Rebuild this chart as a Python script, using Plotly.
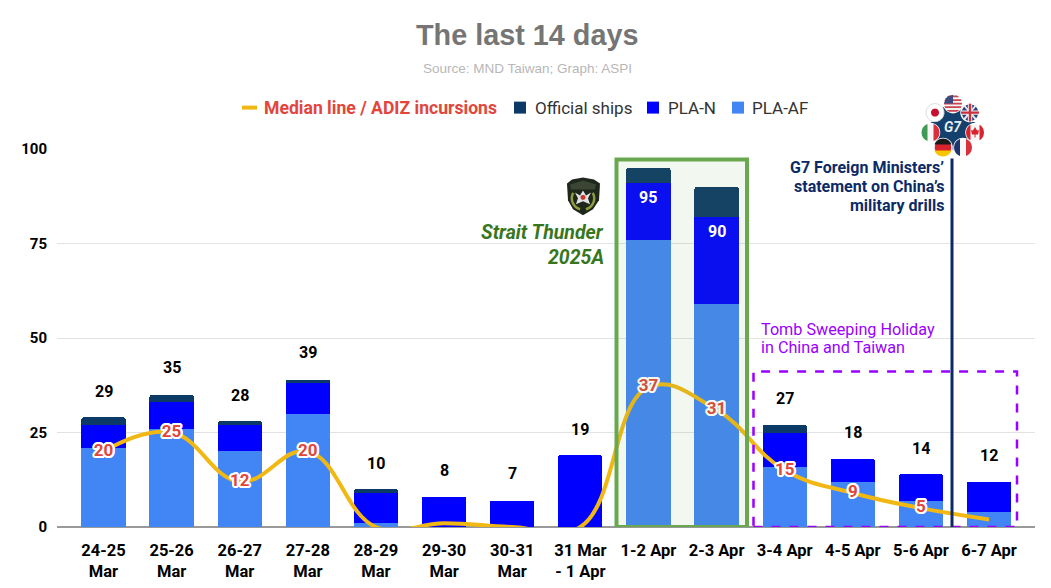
import math
import plotly.graph_objects as go

# ---- data ----
periods = ["24-25<br>Mar", "25-26<br>Mar", "26-27<br>Mar", "27-28<br>Mar", "28-29<br>Mar",
           "29-30<br>Mar", "30-31<br>Mar", "31 Mar<br>- 1 Apr", "1-2 Apr", "2-3 Apr",
           "3-4 Apr", "4-5 Apr", "5-6 Apr", "6-7 Apr"]
pla_af = [21, 26, 20, 30, 1, 0, 0, 0, 76, 59, 16, 12, 7, 4]
pla_n = [6, 7, 7, 8, 8, 8, 7, 19, 15, 23, 9, 6, 7, 8]
official_ships = [2, 2, 1, 1, 1, 0, 0, 0, 4, 8, 2, 0, 0, 0]
totals = [29, 35, 28, 39, 10, 8, 7, 19, 95, 90, 27, 18, 14, 12]
adiz_incursions = [20, 25, 12, 20, 0, 1, 0, 0, 37, 31, 15, 9, 5, 2]
adiz_labels = ["20", "25", "12", "20", "", "", "", "", "37", "31", "15", "9", "5", ""]
total_label_shift = [26, 27, 26, 27, 26, 26, 27, 26, -30, -45, 26, 26, 26, 26]
y_ticks = [0, 25, 50, 75, 100]

AF_BLUE, NAVY_BLUE, SHIP_BLUE = "#4285f4", "#0000ff", "#0b3a66"
LINE_GOLD, LABEL_RED = "#f1b814", "#e0463c"

W, H = 1051, 588
LEFT, RIGHT, TOP, BASE = 57, 1035, 148.5, 527.5
indices = list(range(len(periods)))
STEP = 68.12
X0_PX = 103.5


def px(x):
    return (x - LEFT) / (RIGHT - LEFT)


def py(y):
    return (BASE - y) / (BASE - TOP)


def dx(x):
    return (x - X0_PX) / STEP


def dy(y):
    return (BASE - y) / ((BASE - TOP) / 100)


fig = go.Figure()
halo = ", ".join(f"white {a}px {b}px 0px" for a in (-2, -1, 0, 1, 2) for b in (-2, -1, 0, 1, 2)
                 if abs(a) + abs(b) in (1, 2, 3))

fig.add_bar(x=indices, y=pla_af, name="PLA-AF", marker_color=AF_BLUE, marker_line_width=0, width=0.65)
fig.add_bar(x=indices, y=pla_n, name="PLA-N", marker_color=NAVY_BLUE, marker_line_width=0, width=0.65)
fig.add_bar(x=indices, y=official_ships, name="Official ships", marker_color=SHIP_BLUE, marker_line_width=0, width=0.65)
fig.add_scatter(
    x=indices, y=adiz_incursions, text=adiz_labels, mode="lines+text",
    name="Median line / ADIZ incursions",
    line=dict(color=LINE_GOLD, width=4, shape="spline", smoothing=1.2),
    textposition="middle center",
    textfont=dict(family="Roboto", size=17, color=LABEL_RED, weight="bold", shadow=halo),
)

for i, (t, s) in enumerate(zip(totals, total_label_shift)):
    fig.add_annotation(x=i, y=t, yshift=s, text=f"<b>{t}</b>", showarrow=False,
                       font=dict(family="Roboto", size=16, color="white" if s < 0 else "black"))


def note(text, x, y, color, size, xanchor="right", family="Roboto"):
    fig.add_annotation(xref="paper", yref="paper", x=px(x), y=py(y), text=text, showarrow=False,
                       xanchor=xanchor, yanchor="middle", align=xanchor,
                       font=dict(family=family, size=size, color=color))


note("<b>The last 14 days</b>", 527, 34, "#757575", 28.8, "center", "Liberation Sans")
note("Source: MND Taiwan; Graph: ASPI", 527, 68, "#b7b7b7", 13.5, "center", "Liberation Sans")

note("<b><i>Strait Thunder</i></b>", 606, 232, "#38761d", 19.5)
note("<b><i>2025A</i></b>", 606, 257, "#38761d", 19.5)
note("<b>G7 Foreign Ministers’</b>", 946, 167, "#0b2a66", 16)
note("<b>statement on China’s</b>", 946, 186, "#0b2a66", 16)
note("<b>military drills</b>", 946, 205, "#0b2a66", 16)
note("Tomb Sweeping Holiday", 759, 329, "#9900ff", 16.2, "left")
note("in China and Taiwan", 759, 348, "#9900ff", 16.2, "left")

# Legend row
note("<b>Median line / ADIZ incursions</b>", 262, 107, "#e2453c", 17.6, "left")
note("Official ships", 533, 107, "#333333", 17, "left")
note("PLA-N", 666, 107, "#333333", 17, "left")
note("PLA-AF", 750, 107, "#333333", 17, "left")

shapes = []


def swatch(x, color):
    shapes.append(dict(type="rect", xref="paper", yref="paper", x0=px(x), x1=px(x + 12),
                       y0=py(113), y1=py(101), fillcolor=color, line_width=0, layer="above"))


shapes.append(dict(type="rect", xref="paper", yref="paper", x0=px(242), x1=px(257),
                   y0=py(109), y1=py(105), fillcolor=LINE_GOLD, line_width=0, layer="above"))
swatch(514, SHIP_BLUE)
swatch(647, NAVY_BLUE)
swatch(732, AF_BLUE)

# Exercise highlight panel, tinting the bars it covers
shapes.append(dict(type="rect", xref="x", yref="y", x0=dx(616.5), x1=dx(747), y0=0, y1=dy(159),
                   line=dict(color="#6aa84f", width=4), fillcolor="rgba(106,168,79,0.09)", layer="above"))
# Holiday window
shapes.append(dict(type="rect", xref="x", yref="y", x0=dx(753.5), x1=dx(1017), y0=0, y1=dy(371.5),
                   line=dict(color="#9900ff", width=2.5, dash="dash"), fillcolor="rgba(0,0,0,0)", layer="above"))
# Statement date marker
shapes.append(dict(type="line", xref="x", yref="y", x0=dx(952), x1=dx(952), y0=0, y1=dy(158),
                   line=dict(color="#0b2a66", width=3), layer="above"))


def circle_pts(cx, cy, r, a0, a1, n=24):
    return [(cx + r * math.cos(math.radians(a0 + (a1 - a0) * k / n)),
             cy + r * math.sin(math.radians(a0 + (a1 - a0) * k / n))) for k in range(n + 1)]


def poly(points, fill, line=None, width=0):
    d = "M " + " L ".join(f"{px(x):.5f},{py(y):.5f}" for x, y in points) + " Z"
    shapes.append(dict(type="path", xref="paper", yref="paper", path=d, fillcolor=fill,
                       line=dict(color=line or "rgba(0,0,0,0)", width=width), layer="above"))


def disk(cx, cy, r, fill, line=None, width=0):
    poly(circle_pts(cx, cy, r, 0, 360, 40), fill, line, width)


def clip_band(cx, cy, r, lo, hi, axis, fill):
    """Fill the part of a disk lying between two offsets along one axis."""
    pts = []
    for sgn in (1, -1):
        steps = [lo + (hi - lo) * k / 12 for k in range(13)]
        if sgn < 0:
            steps.reverse()
        for t in steps:
            t = max(-r, min(r, t))
            w = math.sqrt(max(r * r - t * t, 0)) * sgn
            pts.append((cx + t, cy + w) if axis == "x" else (cx + w, cy + t))
    poly(pts, fill)


# G7 emblem: clears the top gridline, then a star-shaped hub with seven flag discs
poly([(917, 140), (990, 140), (990, 156), (917, 156)], "white")
hub = []
for k in range(14):
    ang = math.radians(-90 + k * 360 / 14 + 360 / 14)
    rad = 23 if k % 2 == 0 else 14
    hub.append((953 + rad * math.cos(ang), 127 + rad * math.sin(ang)))
poly(hub, "#14406e")
R = 9
RIM = 1.5

# United States
cx, cy = 953, 103
disk(cx, cy, R, "#f4f4f4", "white", RIM)
for off in (-7.2, -3.6, 0, 3.6, 7.2):
    clip_band(cx, cy, R, off - 0.9, off + 0.9, "y", "#c8464f")
poly([(945.8, 97.5), (948, 95.8), (953, 94.2), (953, 103), (944, 103)], "#3c4a80")

# Japan
disk(935, 112, R, "white", "#dddddd", 1)
disk(935, 112, 4, "#c8102e")

# United Kingdom
cx, cy = 970, 112
disk(cx, cy, R, "#2b3f7e", "white", RIM)
poly([(963.5, 105.5), (965, 104.5), (976.5, 118), (975, 119.5)], "#e8e8e8")
poly([(975, 104.5), (976.5, 105.5), (965, 119.5), (963.5, 118)], "#e8e8e8")
clip_band(cx, cy, R, -2.2, 2.2, "x", "#f2f2f2")
clip_band(cx, cy, R, -2.2, 2.2, "y", "#f2f2f2")
clip_band(cx, cy, R, -1.2, 1.2, "x", "#c8323e")
clip_band(cx, cy, R, -1.2, 1.2, "y", "#c8323e")

# Italy
cx, cy = 930.5, 132
disk(cx, cy, R, "#f7f7f7", "white", RIM)
clip_band(cx, cy, R, -R, -3, "x", "#3f9a55")
clip_band(cx, cy, R, 3, R, "x", "#d8303c")

# Canada
cx, cy = 975, 132
disk(cx, cy, R, "#f7f7f7", "white", RIM)
clip_band(cx, cy, R, -R, -4.5, "x", "#d8232f")
clip_band(cx, cy, R, 4.5, R, "x", "#d8232f")
poly([(975, 126.5), (977, 130), (979, 129.5), (978, 134), (975.5, 134), (975.5, 137),
      (974.5, 137), (974.5, 134), (972, 134), (971, 129.5), (973, 130)], "#d8232f")

# Germany
cx, cy = 943, 147
disk(cx, cy, R, "#d8232f", "white", RIM)
clip_band(cx, cy, R, -R, -3, "y", "#1a1a1a")
clip_band(cx, cy, R, 3, R, "y", "#f7c400")

# France
cx, cy = 963, 147
disk(cx, cy, R, "#f7f7f7", "white", RIM)
clip_band(cx, cy, R, -R, -3, "x", "#1f3370")
clip_band(cx, cy, R, 3, R, "x", "#d8303c")

note("<b><i>G7</i></b>", 952.5, 126, "#e8eef5", 14, "center")

# Exercise badge: dark shield, olive wreath, star on a pale burst
poly([(567, 183), (572, 179), (583, 177), (594, 179), (600, 183), (599, 200), (593, 209),
      (583, 215), (573, 209), (568, 200)], "#1f271c")
poly([(570, 184), (583, 180), (596, 184), (595, 189), (571, 189)], "#3a4534")
for sx in (-1, 1):
    arc = [(583 + sx * (12.5 * math.cos(math.radians(t))), 198 + 12.5 * math.sin(math.radians(t)))
           for t in range(-30, 81, 15)]
    inner = [(583 + sx * (10 * math.cos(math.radians(t))), 198 + 10 * math.sin(math.radians(t)))
             for t in range(75, -31, -15)]
    poly(arc + inner, "#8f9c3e")
poly([(583, 190), (586, 195), (591, 192), (588, 198), (590, 204), (583, 201), (576, 204),
      (578, 198), (575, 192), (580, 195)], "#dfe3e6")
disk(583, 197, 2.5, "#c8372c")

fig.update_layout(
    width=W, height=H, autosize=False,
    margin=dict(l=LEFT, r=W - RIGHT, t=TOP, b=H - BASE, pad=0, autoexpand=False),
    paper_bgcolor="white", plot_bgcolor="white",
    barmode="stack", barcornerradius=2, shapes=shapes,
    font=dict(family="Roboto", color="#222222"),
    showlegend=False,
    xaxis=dict(range=[dx(LEFT), dx(RIGHT)], tickvals=indices, ticktext=periods, showgrid=False,
               automargin=False,
               zeroline=False, showline=False, ticks="", ticklen=0, ticklabelstandoff=11,
               tickfont=dict(family="Roboto", size=16.5, color="black", weight="bold"), tickangle=0),
    yaxis=dict(range=[0, 100], tickvals=y_ticks, showgrid=True, gridcolor="#e2e2e2", gridwidth=1,
               automargin=False,
               zeroline=True, zerolinecolor="#999999", zerolinewidth=2, showline=False, ticks="",
               ticklabelstandoff=9,
               tickfont=dict(family="Roboto", size=15, color="black", weight="bold")),
)
fig.write_html("out.html")
